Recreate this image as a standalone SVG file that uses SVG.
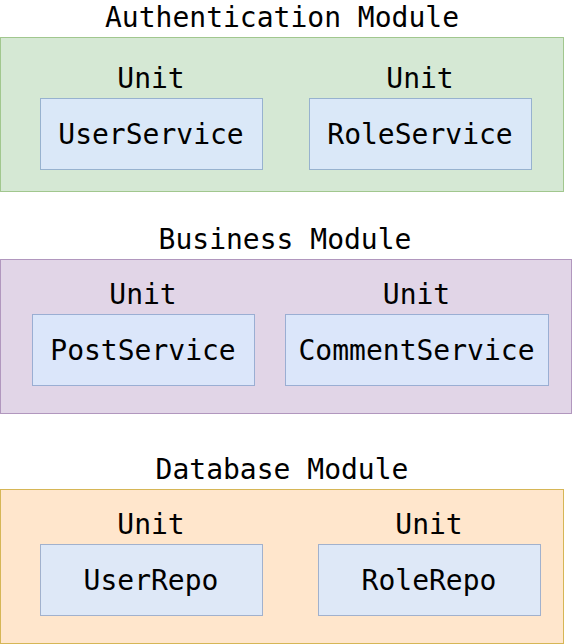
<svg xmlns="http://www.w3.org/2000/svg" width="572" height="644" viewBox="0 0 572 644">
<style>
text{font-family:"DejaVu Sans Mono","Liberation Mono",monospace;font-size:28px;fill:#000;text-anchor:middle}
.unit{fill:#dae8fc;stroke:#6c8ebf;stroke-opacity:0.6;fill-opacity:0.9}
.auth{fill:#d5e8d4;stroke:#82b366;stroke-opacity:0.7}
.biz{fill:#e1d5e7;stroke:#9673a6;stroke-opacity:0.7}
.db{fill:#ffe6cc;stroke:#d6b656}
</style>
<g id="auth-module">
<text x="282" y="27">Authentication Module</text>
<rect class="auth" x="0.5" y="37.5" width="563" height="154"/>
</g>
<g id="user-service">
<text x="151" y="88">Unit</text>
<rect class="unit" x="40.5" y="98.5" width="222" height="71"/>
<text x="151" y="144">UserService</text>
</g>
<g id="role-service">
<text x="420" y="88">Unit</text>
<rect class="unit" x="309.5" y="98.5" width="222" height="71"/>
<text x="420" y="144">RoleService</text>
</g>
<g id="business-module">
<text x="285" y="249">Business Module</text>
<rect class="biz" x="0.5" y="259.5" width="571" height="154"/>
</g>
<g id="post-service">
<text x="143" y="304">Unit</text>
<rect class="unit" x="32.5" y="314.5" width="222" height="71"/>
<text x="143" y="360">PostService</text>
</g>
<g id="comment-service">
<text x="416.5" y="304">Unit</text>
<rect class="unit" x="285.5" y="314.5" width="263" height="71"/>
<text x="416.5" y="360">CommentService</text>
</g>
<g id="database-module">
<text x="282" y="479">Database Module</text>
<rect class="db" x="0.5" y="489.5" width="563" height="154"/>
</g>
<g id="user-repo">
<text x="151" y="534">Unit</text>
<rect class="unit" x="40.5" y="544.5" width="222" height="71"/>
<text x="151" y="590">UserRepo</text>
</g>
<g id="role-repo">
<text x="429" y="534">Unit</text>
<rect class="unit" x="318.5" y="544.5" width="222" height="71"/>
<text x="429" y="590">RoleRepo</text>
</g>
<g id="connectors"></g>
</svg>
